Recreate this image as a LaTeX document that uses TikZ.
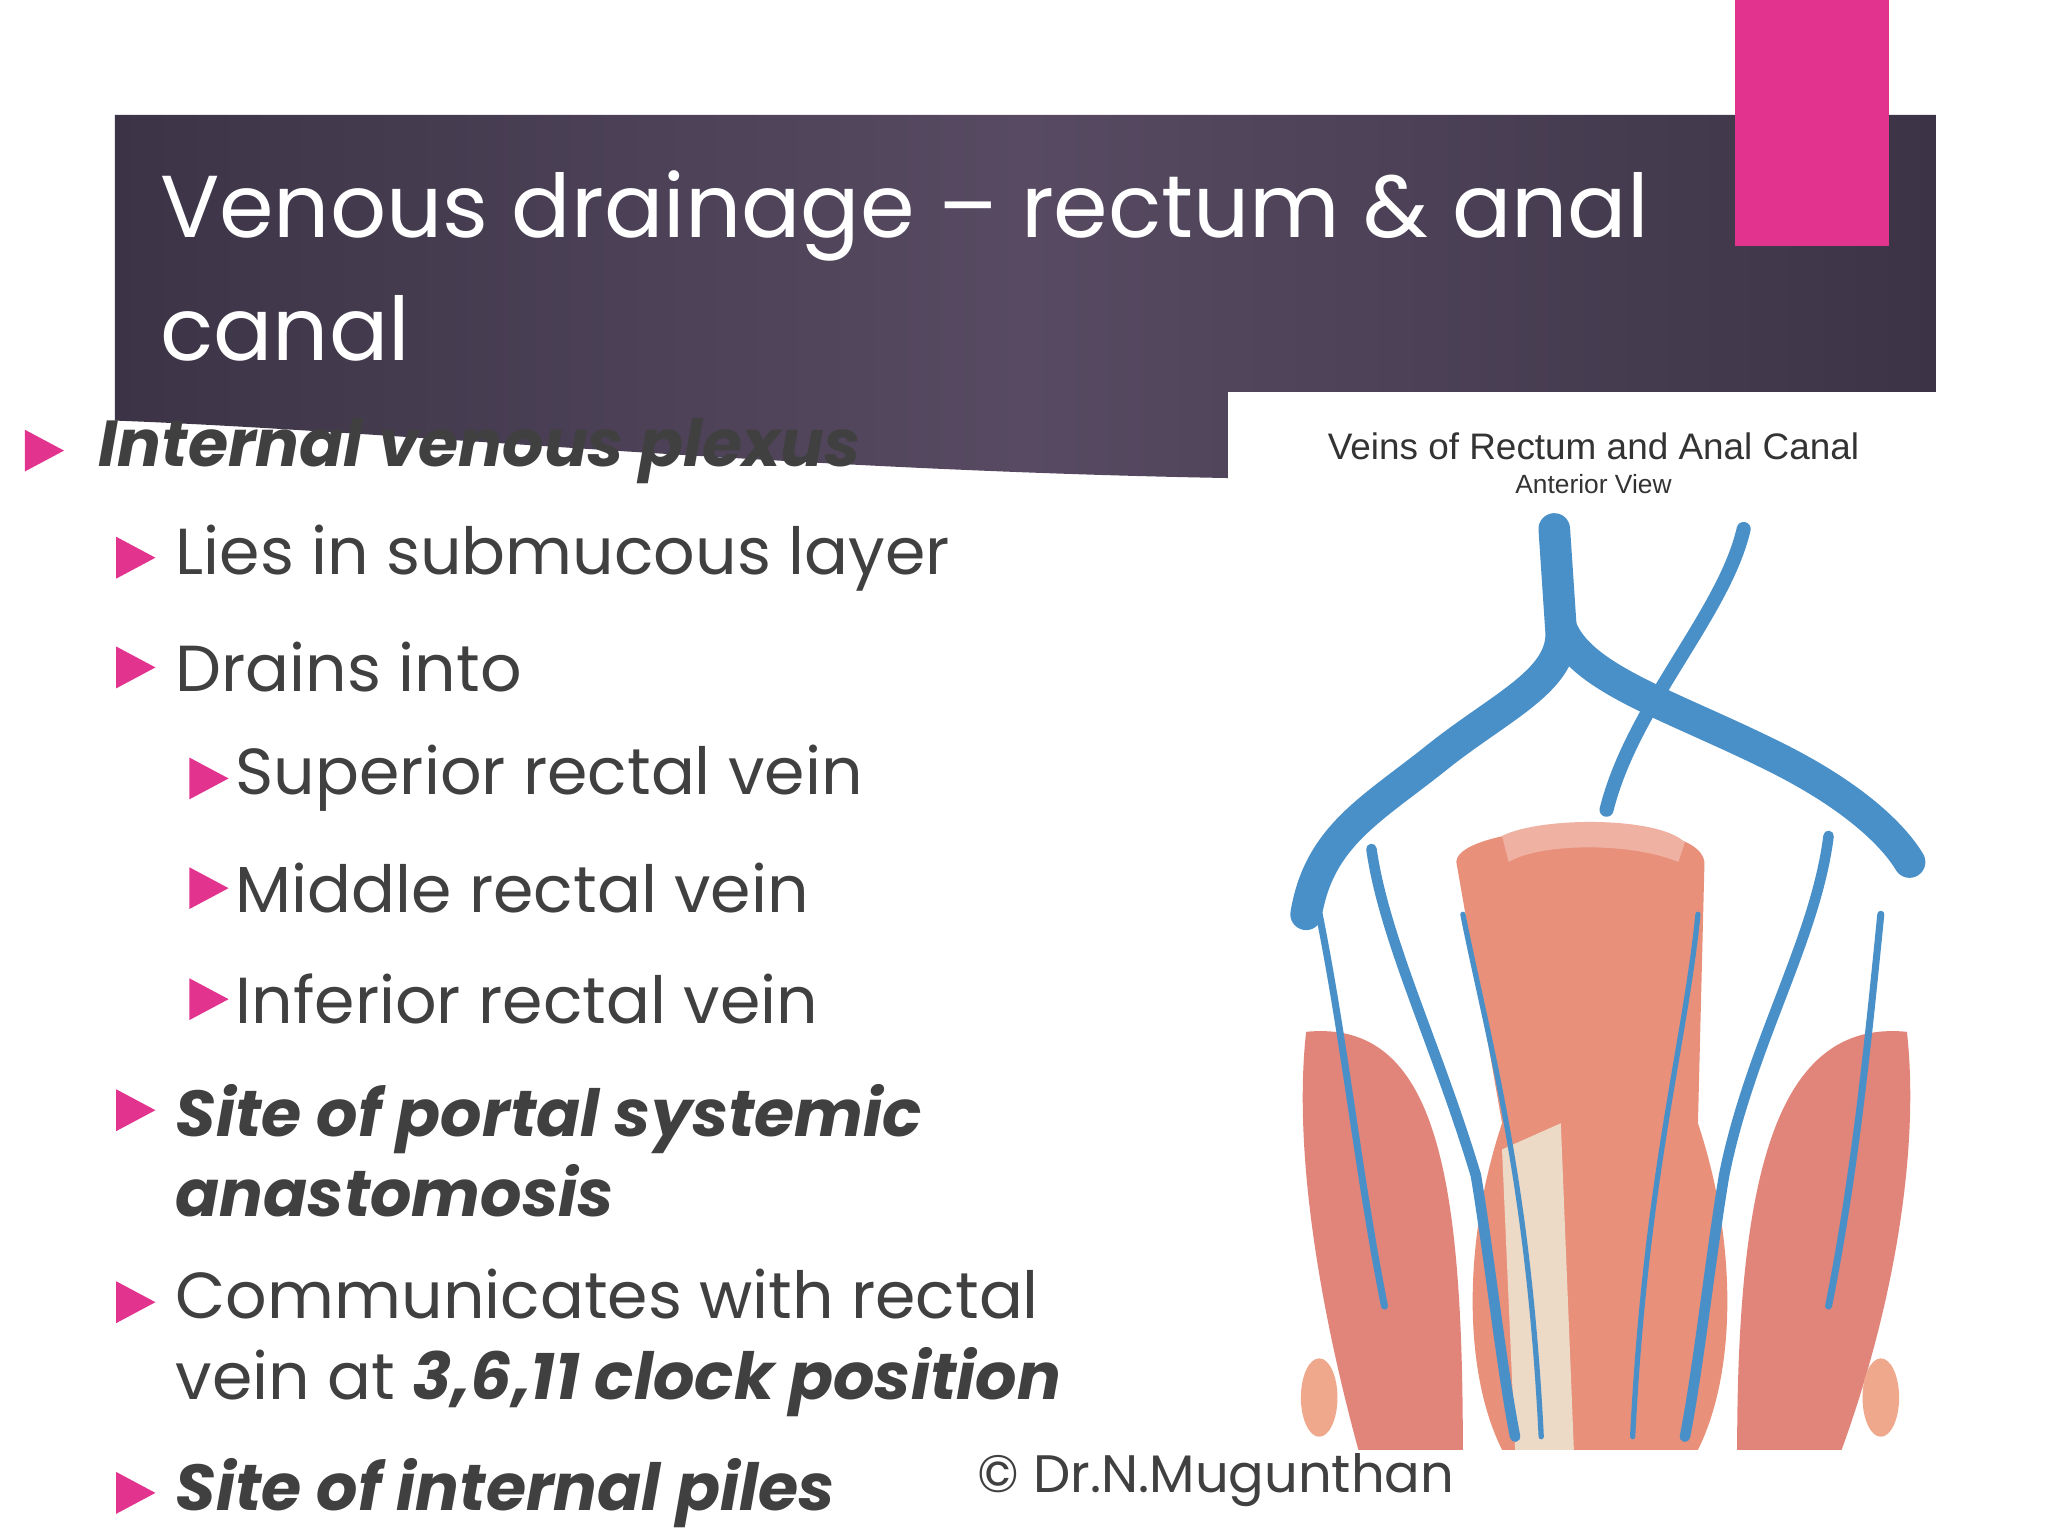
\documentclass[tikz,border=0pt]{standalone}
\usepackage{fontspec}
\setmainfont{Poppins}
\newfontfamily\arialf{Liberation Sans}
\definecolor{bandA}{HTML}{3C3446}
\definecolor{bandB}{HTML}{574A62}
\definecolor{pinkb}{HTML}{E2338F}
\definecolor{txt}{HTML}{404040}
\definecolor{vein}{HTML}{4A90C8}
\definecolor{rect}{HTML}{E8907A}
\definecolor{musc}{HTML}{D9675A}
\tikzset{
  b1/.style={fill=pinkb,draw=none},
  btxt/.style={anchor=west,text=txt,font=\fontsize{18.5}{23}\selectfont,inner sep=0},
  vn/.style={draw=vein,line cap=round,line join=round},
}
\newcommand{\tri}[2]{\fill[b1] (#1-15,#2-16) -- (#1+15,#2) -- (#1-15,#2+16) -- cycle;}
\begin{document}
\begin{tikzpicture}[x=0.01306cm,y=-0.01306cm]
\useasboundingbox (0,0) rectangle (1568,1176);
\fill[white] (0,0) rectangle (1568,1176);
% band
\shade[left color=bandA,right color=bandA, middle color=bandB] (88,88) -- (1482,88) -- (1482,300) -- (940,300) -- (940,366) .. controls (600,360) and (300,330) .. (88,322) -- cycle;
\fill[pinkb] (1328,0) rectangle (1446,188);
\node[anchor=west,text=white,font=\fontsize{25}{35}\selectfont,inner sep=0,align=left] (title) at (122,204) {Venous drainage – rectum \& anal\\canal};
% bullets
\tri{34}{345}
\node[btxt,font=\fontsize{18.5}{23}\selectfont\bfseries\itshape] (l1) at (75,345) {Internal venous plexus};
\tri{104}{427}
\node[btxt] (l2) at (134,427) {Lies in submucous layer};
\tri{104}{511}
\node[btxt] (l3) at (134,511) {Drains into};
\tri{160}{596}
\node[btxt] (l4) at (180,596) {Superior rectal vein};
\tri{160}{680}
\node[btxt] (l5) at (180,680) {Middle rectal vein};
\tri{160}{765}
\node[btxt] (l6) at (180,765) {Inferior rectal vein};
\tri{104}{850}
\node[btxt,align=left,font=\fontsize{18.5}{23}\selectfont\bfseries\itshape] (l7) at (134,881) {Site of portal systemic\\anastomosis};
\tri{104}{997}
\node[btxt,align=left,font=\fontsize{18.5}{23}\selectfont] (l8) at (134,1028) {Communicates with rectal\\vein at \textbf{\itshape 3,6,11 clock position}};
\tri{104}{1143}
\node[btxt,font=\fontsize{18.5}{23}\selectfont\bfseries\itshape] (l9) at (134,1143) {Site of internal piles};
\node[btxt,font=\fontsize{15}{18}\selectfont] (copy) at (748,1133) {© Dr.N.Mugunthan};
% figure
\node[text=black!80,font=\arialf\fontsize{10.5}{12}\selectfont,inner sep=0] (ft) at (1220,342) {Veins of Rectum and Anal Canal};
\node[text=black!80,font=\arialf\fontsize{7.5}{9}\selectfont,inner sep=0] (fs) at (1220,371) {Anterior View};
% muscles
\fill[musc!80] (1000,790) .. controls (1100,780) and (1120,900) .. (1120,1110) -- (1040,1110) .. controls (1010,1000) and (990,880) .. (1000,790) -- cycle;
\fill[musc!80] (1460,790) .. controls (1360,780) and (1330,900) .. (1330,1110) -- (1410,1110) .. controls (1450,1000) and (1470,880) .. (1460,790) -- cycle;
\fill[orange!30!musc!60] (1010,1070) ellipse (14 and 30);
\fill[orange!30!musc!60] (1440,1070) ellipse (14 and 30);
% rectum
\fill[rect] (1115,660) .. controls (1115,630) and (1300,620) .. (1305,660) -- (1300,860) .. controls (1330,950) and (1330,1050) .. (1300,1110) -- (1150,1110) .. controls (1120,1050) and (1120,950) .. (1150,860) -- cycle;
\fill[rect!70!white] (1150,640) .. controls (1180,625) and (1270,625) .. (1290,645) -- (1285,660) .. controls (1250,645) and (1180,645) .. (1155,660) -- cycle;
\fill[brown!30!white] (1150,880) -- (1195,860) -- (1205,1110) -- (1160,1110) -- cycle;
% veins
\draw[vn,line width=9pt] (1190,405) -- (1195,480) .. controls (1200,520) and (1150,540) .. (1100,580) .. controls (1050,620) and (1010,640) .. (1000,700);
\draw[vn,line width=9pt] (1195,480) .. controls (1210,520) and (1280,540) .. (1360,580) .. controls (1420,610) and (1450,640) .. (1462,660);
\draw[vn,line width=4pt] (1335,405) .. controls (1320,470) and (1250,540) .. (1230,620);
\draw[vn,line width=3pt] (1050,650) .. controls (1060,720) and (1100,800) .. (1130,900) .. controls (1140,960) and (1150,1050) .. (1160,1100);
\draw[vn,line width=3pt] (1400,640) .. controls (1390,720) and (1340,800) .. (1320,900) .. controls (1310,960) and (1300,1050) .. (1290,1100);
\draw[vn,line width=2pt] (1010,700) .. controls (1030,800) and (1040,900) .. (1060,1000);
\draw[vn,line width=2pt] (1440,700) .. controls (1430,800) and (1420,900) .. (1400,1000);
\draw[vn,line width=1.5pt] (1120,700) .. controls (1140,800) and (1170,900) .. (1180,1100);
\draw[vn,line width=1.5pt] (1300,700) .. controls (1290,800) and (1260,900) .. (1250,1100);
\end{tikzpicture}
\end{document}
